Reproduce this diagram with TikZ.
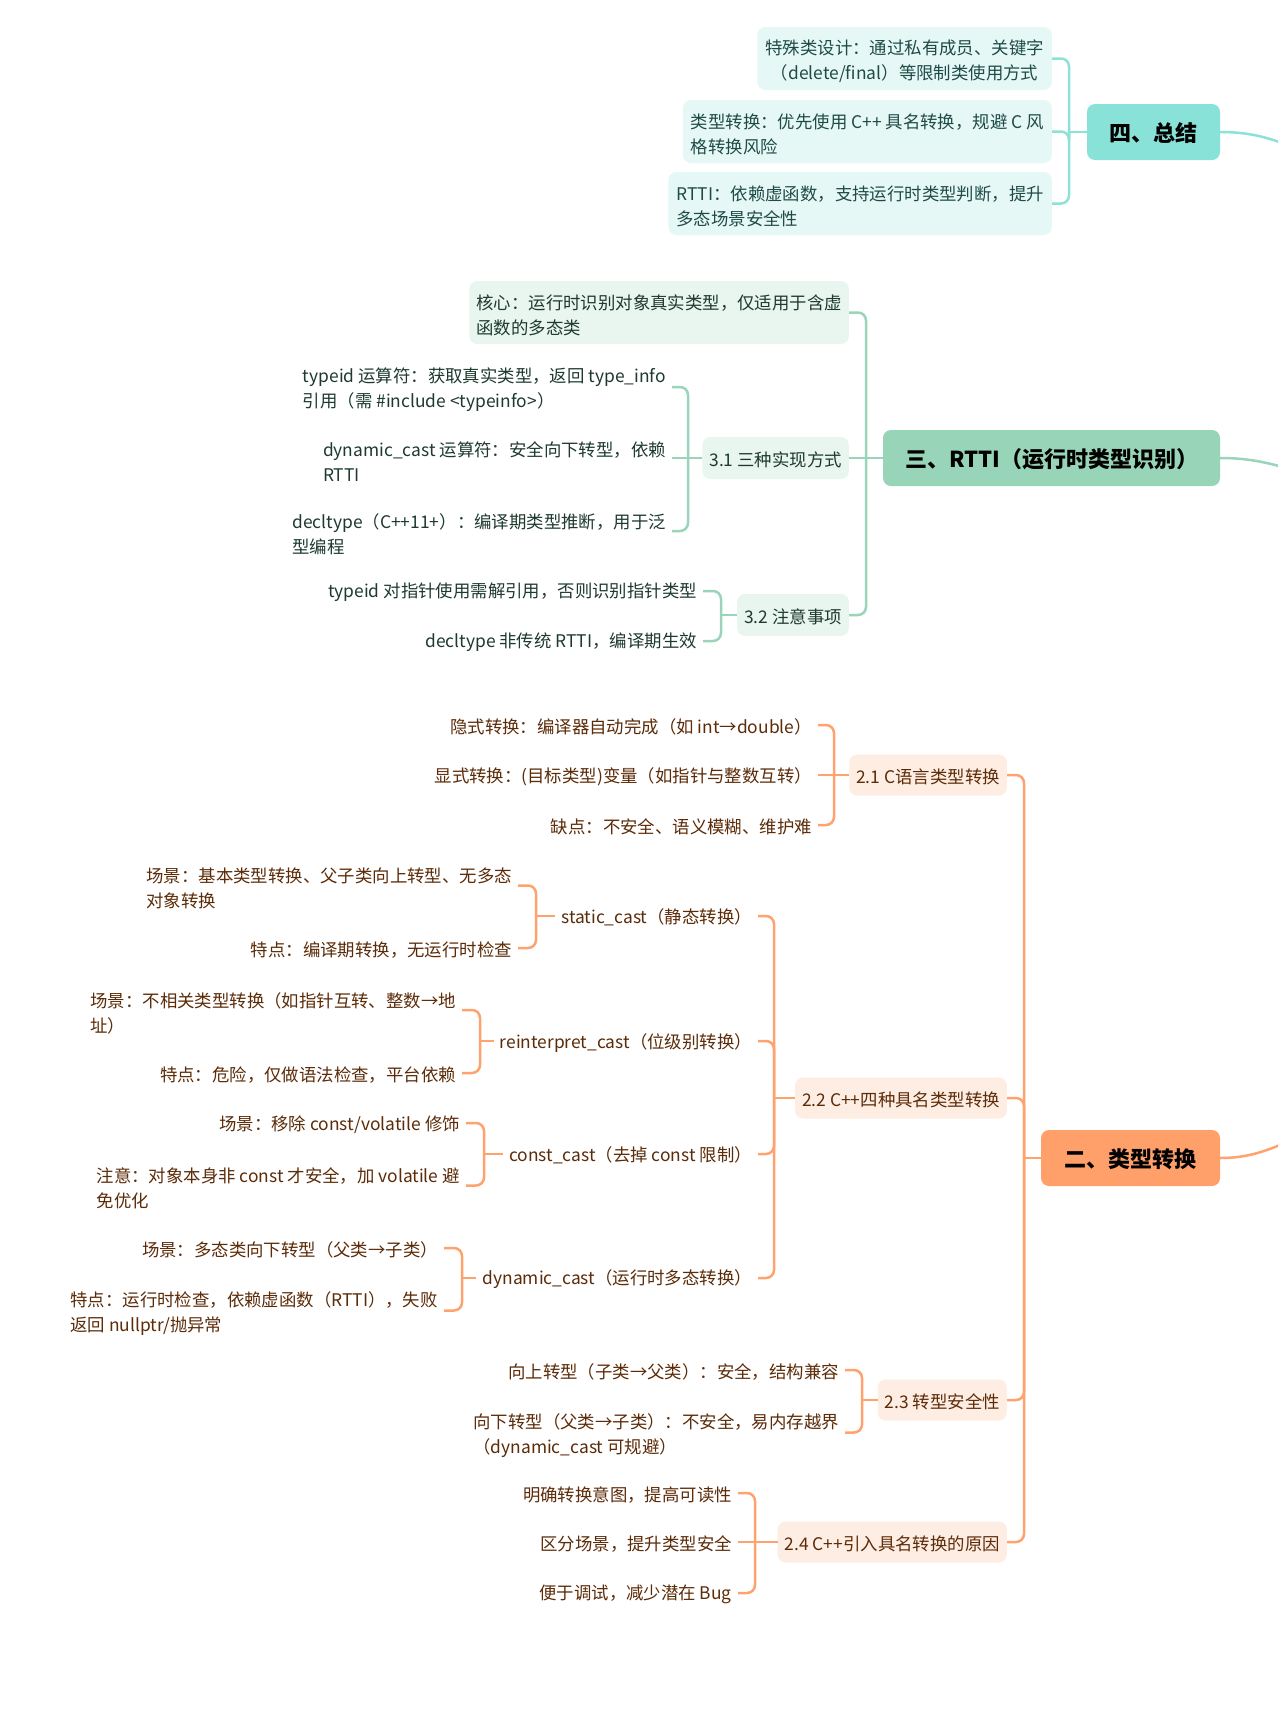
\documentclass[tikz,border=0pt]{standalone}
\usepackage{fontspec}
\setmainfont{Noto Sans CJK SC}
\newcommand{\fstrut}{\rule{0pt}{21pt}}
\definecolor{tline}{HTML}{8DE2D8}
\definecolor{troot}{HTML}{89E2D7}
\definecolor{tfill}{HTML}{E6F8F6}
\definecolor{ttext}{HTML}{1F4B47}
\definecolor{gline}{HTML}{9AD4B9}
\definecolor{groot}{HTML}{98D4B8}
\definecolor{gfill}{HTML}{E9F5EF}
\definecolor{gtext}{HTML}{1E3A2E}
\definecolor{oline}{HTML}{FFA26E}
\definecolor{oroot}{HTML}{FFA06A}
\definecolor{ofill}{HTML}{FEEDE3}
\definecolor{otext}{HTML}{5C2B08}
\tikzset{
  base/.style={font=\fontsize{17.4}{25}\selectfont, align=left, inner ysep=3pt, execute at begin node={\rule{0pt}{18pt}}},
  leafg/.style={base, anchor=east, inner xsep=6pt, text=gtext},
  leafo/.style={base, anchor=east, inner xsep=6pt, text=otext},
  boxt/.style={base, anchor=east, inner xsep=8pt, fill=tfill, text=ttext, rounded corners=8pt, minimum height=63pt},
  boxg/.style={base, anchor=east, inner xsep=7pt, fill=gfill, text=gtext, rounded corners=8pt},
  boxo/.style={base, anchor=east, inner xsep=7pt, fill=ofill, text=otext, rounded corners=8pt, minimum height=41pt},
  rootbox/.style={font=\fontsize{22}{26}\selectfont\bfseries, text=black, rounded corners=8pt, inner sep=0pt, minimum height=56pt, execute at begin node={\rule{0pt}{22pt}}},
  cont/.style={draw=tline, line width=2.5pt, rounded corners=8pt},
  cong/.style={draw=gline, line width=2.5pt, rounded corners=8pt},
  cono/.style={draw=oline, line width=2.5pt, rounded corners=8pt}
}
\begin{document}
\begin{tikzpicture}[x=1pt,y=-1pt]
\useasboundingbox (0,0) rectangle (1278,1722);
\clip (0,0) rectangle (1278,1722);
\fill[white] (0,0) rectangle (1278,1722);

% ---------- Section 4 ----------
\node[rootbox, fill=troot, minimum width=133pt] (r4) at (1153.5,132) {四、总结};
\node[boxt, align=center] (b41) at (1052,58.5) {\fstrut 特殊类设计：通过私有成员、关键字\\（delete/final）等限制类使用方式};
\node[boxt] (b42) at (1052,131.5) {\fstrut 类型转换：优先使用 C++ 具名转换，规避 C 风\\格转换风险};
\node[boxt] (b43) at (1052,203.5) {\fstrut RTTI：依赖虚函数，支持运行时类型判断，提升\\多态场景安全性};
\coordinate (j4) at (1069,132);
\draw[cont] (b41.east) -| (j4);
\draw[cont] (b42.east) -| (j4);
\draw[cont] (b43.east) -| (j4);
\draw[cont] (j4) -- (r4.west);
\coordinate (o4) at (1300,150);
\draw[cont] (r4.east) .. controls (1255,132) and (1275,140) .. (o4);

% ---------- Section 3 ----------
\node[rootbox, fill=groot, minimum width=337pt] (r3) at (1051.5,458) {三、RTTI（运行时类型识别）};
\node[boxg, minimum height=63pt] (c1) at (849,312.5) {\fstrut 核心：运行时识别对象真实类型，仅适用于含虚\\函数的多态类};
\node[boxg, minimum height=42pt] (c31) at (849,458) {3.1 三种实现方式};
\node[boxg, minimum height=42pt] (c32) at (849,615) {3.2 注意事项};
\coordinate (j3) at (866,458);
\draw[cong] (c1.east) -| (j3);
\draw[cong] (c31.east) -- (j3);
\draw[cong] (c32.east) -| (j3);
\draw[cong] (j3) -- (r3.west);
\coordinate (o3) at (1300,472);
\draw[cong] (r3.east) .. controls (1250,458) and (1270,463) .. (o3);

\node[leafg] (l311) at (672,387) {\fstrut typeid 运算符：获取真实类型，返回 type\_info\\引用（需 \#include <typeinfo>）};
\node[leafg] (l312) at (672,458) {\fstrut dynamic\_cast 运算符：安全向下转型，依赖\\RTTI};
\node[leafg] (l313) at (672,531) {\fstrut decltype（C++11+）：编译期类型推断，用于泛\\型编程};
\coordinate (j31) at (688,458);
\draw[cong] (l311.east) -| (j31);
\draw[cong] (l312.east) -- (j31);
\draw[cong] (l313.east) -| (j31);
\draw[cong] (j31) -- (c31.west);

\node[leafg] (l321) at (703,591) {typeid 对指针使用需解引用，否则识别指针类型};
\node[leafg] (l322) at (703,641) {decltype 非传统 RTTI，编译期生效};
\coordinate (j32) at (721,615);
\draw[cong] (l321.east) -| (j32);
\draw[cong] (l322.east) -| (j32);
\draw[cong] (j32) -- (c32.west);

% ---------- Section 2 ----------
\node[rootbox, fill=oroot, minimum width=179pt] (r2) at (1130.5,1158) {二、类型转换};
\node[boxo] (s21) at (1007,775) {2.1 C语言类型转换};
\node[boxo] (s22) at (1007,1098) {2.2 C++四种具名类型转换};
\node[boxo] (s23) at (1007,1400) {2.3 转型安全性};
\node[boxo] (s24) at (1007,1542) {2.4 C++引入具名转换的原因};
\coordinate (j2) at (1024,1158);
\draw[cono] (s21.east) -| (j2);
\draw[cono] (s22.east) -| (j2);
\draw[cono] (s23.east) -| (j2);
\draw[cono] (s24.east) -| (j2);
\draw[cono] (j2) -- (r2.west);
\coordinate (o2) at (1300,1136);
\draw[cono] (r2.east) .. controls (1250,1158) and (1270,1150) .. (o2);

% 2.1
\node[leafo] (l211) at (818,725) {隐式转换：编译器自动完成（如 int→double）};
\node[leafo] (l212) at (818,775) {显式转换：(目标类型)变量（如指针与整数互转）};
\node[leafo] (l213) at (818,825) {缺点：不安全、语义模糊、维护难};
\coordinate (j21) at (834,775);
\draw[cono] (l211.east) -| (j21);
\draw[cono] (l212.east) -- (j21);
\draw[cono] (l213.east) -| (j21);
\draw[cono] (j21) -- (s21.west);

% 2.2
\node[leafo] (k1) at (758,916) {static\_cast（静态转换）};
\node[leafo] (k2) at (758,1041) {reinterpret\_cast（位级别转换）};
\node[leafo] (k3) at (758,1154) {const\_cast（去掉 const 限制）};
\node[leafo] (k4) at (758,1278) {dynamic\_cast（运行时多态转换）};
\coordinate (j22) at (774,1098);
\draw[cono] (k1.east) -| (j22);
\draw[cono] (k2.east) -| (j22);
\draw[cono] (k3.east) -| (j22);
\draw[cono] (k4.east) -| (j22);
\draw[cono] (j22) -- (s22.west);

\node[leafo] (k11) at (518,885.5) {\fstrut 场景：基本类型转换、父子类向上转型、无多态\\对象转换};
\node[leafo] (k12) at (518,948) {特点：编译期转换，无运行时检查};
\coordinate (j221) at (536,916);
\draw[cono] (k11.east) -| (j221);
\draw[cono] (k12.east) -| (j221);
\draw[cono] (j221) -- (k1.west);

\node[leafo] (k21) at (462,1010) {\fstrut 场景：不相关类型转换（如指针互转、整数→地\\址）};
\node[leafo] (k22) at (462,1073) {特点：危险，仅做语法检查，平台依赖};
\coordinate (j222) at (480,1041);
\draw[cono] (k21.east) -| (j222);
\draw[cono] (k22.east) -| (j222);
\draw[cono] (j222) -- (k2.west);

\node[leafo] (k31) at (466,1123) {场景：移除 const/volatile 修饰};
\node[leafo] (k32) at (466,1185.5) {\fstrut 注意：对象本身非 const 才安全，加 volatile 避\\免优化};
\coordinate (j223) at (484,1154);
\draw[cono] (k31.east) -| (j223);
\draw[cono] (k32.east) -| (j223);
\draw[cono] (j223) -- (k3.west);

\node[leafo] (k41) at (444,1248) {场景：多态类向下转型（父类→子类）};
\node[leafo] (k42) at (444,1310.5) {\fstrut 特点：运行时检查，依赖虚函数（RTTI），失败\\返回 nullptr/抛异常};
\coordinate (j224) at (462,1278);
\draw[cono] (k41.east) -| (j224);
\draw[cono] (k42.east) -| (j224);
\draw[cono] (j224) -- (k4.west);

% 2.3
\node[leafo] (l231) at (845,1370) {向上转型（子类→父类）：安全，结构兼容};
\node[leafo] (l232) at (845,1432.5) {\fstrut 向下转型（父类→子类）：不安全，易内存越界\\（dynamic\_cast 可规避）};
\coordinate (j23) at (862,1400);
\draw[cono] (l231.east) -| (j23);
\draw[cono] (l232.east) -| (j23);
\draw[cono] (j23) -- (s23.west);

% 2.4
\node[leafo] (l241) at (738,1493) {明确转换意图，提高可读性};
\node[leafo] (l242) at (738,1542) {区分场景，提升类型安全};
\node[leafo] (l243) at (738,1593) {便于调试，减少潜在 Bug};
\coordinate (j24) at (755,1542);
\draw[cono] (l241.east) -| (j24);
\draw[cono] (l242.east) -- (j24);
\draw[cono] (l243.east) -| (j24);
\draw[cono] (j24) -- (s24.west);
\end{tikzpicture}
\end{document}
